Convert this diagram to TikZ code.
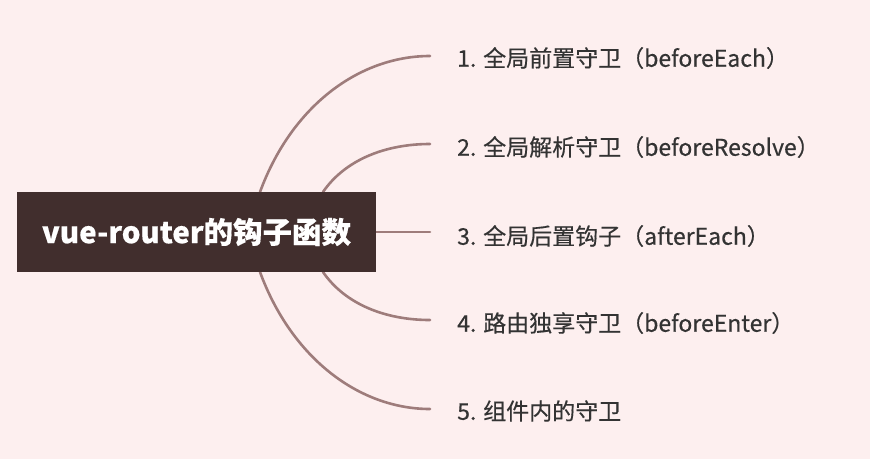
\documentclass[tikz,border=0pt]{standalone}
\usepackage{fontspec}
\newfontfamily\cjk[FakeBold=0.4]{Noto Sans CJK SC}
\newfontfamily\cjkb{Noto Sans CJK SC Bold}
\definecolor{bg}{HTML}{FDEFEF}
\definecolor{boxc}{HTML}{412E2D}
\definecolor{linec}{HTML}{9E7C7B}
\definecolor{txtc}{HTML}{333333}
\begin{document}
\begin{tikzpicture}[x=1pt,y=-1pt,
  branch/.style={draw=linec,line width=2.6pt,line cap=round},
  leaf/.style={anchor=west,inner sep=0pt,text=txtc,font=\cjk\fontsize{23}{27}\selectfont},
  root/.style={fill=boxc,text=white,font=\cjk\bfseries\fontsize{29.5}{34}\selectfont,minimum width=359pt,minimum height=80pt,inner sep=0pt}]
\fill[bg] (0,0) rectangle (870,459);
\useasboundingbox (0,0) rectangle (870,459);
\coordinate (t1) at (260,192);
\coordinate (t2) at (323,192);
\coordinate (b1) at (260,272);
\coordinate (b2) at (323,272);
\coordinate (ce) at (376,232);
\node[leaf] (l1) at (457,58) {1. 全局前置守卫（beforeEach）};
\node[leaf] (l2) at (457,147) {2. 全局解析守卫（beforeResolve）};
\node[leaf] (l3) at (457,236) {3. 全局后置钩子（afterEach）};
\node[leaf] (l4) at (457,323) {4. 路由独享守卫（beforeEnter）};
\node[leaf] (l5) at (457,411) {5. 组件内的守卫};
\coordinate (e1) at (430,56);
\coordinate (e2) at (430,144);
\coordinate (e3) at (430,232);
\coordinate (e4) at (430,320);
\coordinate (e5) at (430,409);
\draw[branch] (t1) .. controls (292,105) and (360,56) .. (e1);
\draw[branch] (t2) .. controls (345,160) and (385,144) .. (e2);
\draw[branch] (ce) -- (e3);
\draw[branch] (b2) .. controls (345,304) and (385,320) .. (e4);
\draw[branch] (b1) .. controls (292,359) and (360,409) .. (e5);
\node[root] (c) at (196.5,232) {vue-router的钩子函数};
\end{tikzpicture}
\end{document}
